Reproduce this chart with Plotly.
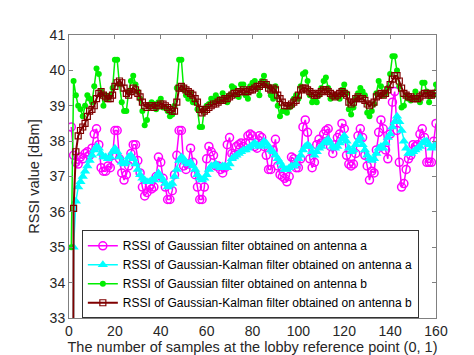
import plotly.graph_objects as go

samples = list(range(1, 161))

gauss_a = [38.4, 37.6, 37.4, 37.35, 37.55, 37.5, 37.65, 37.7, 37.6, 37.8,
           38.2, 38.35, 37.9, 37.25, 37.15, 37.15, 37.3, 37.25, 37.6, 38.3,
           38.3, 37.5, 37.1, 36.9, 37.05, 37.3, 37.65, 37.9, 37.9, 37.45,
           37.1, 36.7, 36.45, 36.55, 36.7, 36.65, 36.7, 37.0, 37.55, 37.4,
           36.95, 36.7, 36.35, 36.35, 36.6, 37.05, 37.6, 38.3, 38.3, 37.3,
           37.2, 37.35, 37.8, 37.4, 37.05, 36.7, 36.35, 36.35, 36.7, 37.5,
           37.85, 37.7, 37.6, 37.3, 37.3, 37.2, 37.1, 37.25, 37.9, 38.1,
           37.65, 37.6, 37.85, 37.9, 37.95, 37.85, 37.95, 38.15, 38.2, 38.15,
           37.85, 37.8, 38.15, 38.1, 37.85, 37.6, 37.2, 37.2, 37.75, 38.05,
           37.3, 37.05, 37.0, 36.95, 36.85, 37.0, 37.55, 37.5, 37.25, 37.25,
           37.5, 38.4, 38.6, 38.25, 37.5, 37.25, 37.4, 37.9, 38.05, 37.95,
           38.2, 38.3, 38.35, 37.85, 37.65, 37.9, 38.1, 38.2, 38.5, 38.35,
           37.6, 37.35, 37.3, 37.35, 37.65, 38.15, 38.35, 38.1, 37.6, 37.3,
           36.9, 37.15, 37.1, 37.75, 38.25, 38.6, 38.35, 37.75, 37.5, 38.2,
           39.1, 39.4, 38.3, 37.4, 36.7, 36.8, 37.2, 37.5, 37.6, 37.9,
           37.85, 37.9, 38.2, 38.35, 38.1, 37.4, 37.4, 37.4, 38.0, 38.5]

kalman_a = [0.0, 35.0, 36.3, 36.7, 36.85, 37.0, 37.15, 37.3, 37.45, 37.6,
            37.75, 37.85, 37.8, 37.65, 37.55, 37.55, 37.5, 37.55, 37.7, 37.8,
            37.7, 37.55, 37.4, 37.35, 37.4, 37.55, 37.6, 37.5, 37.35, 37.2,
            37.05, 36.95, 36.9, 36.85, 36.85, 36.9, 36.9, 37.0, 37.1, 37.0,
            36.9, 36.8, 36.7, 36.75, 36.8, 37.0, 37.2, 37.45, 37.55, 37.5,
            37.4, 37.35, 37.4, 37.3, 37.2, 37.05, 36.95, 36.9, 36.95, 37.05,
            37.2, 37.3, 37.3, 37.35, 37.3, 37.25, 37.3, 37.3, 37.25, 37.35,
            37.5, 37.55, 37.6, 37.65, 37.7, 37.75, 37.75, 37.8, 37.85, 37.9,
            37.95, 37.9, 37.85, 37.9, 38.0, 37.95, 37.85, 37.75, 37.7, 37.6,
            37.5, 37.4, 37.3, 37.2, 37.2, 37.25, 37.3, 37.3, 37.35, 37.5,
            37.6, 37.75, 37.85, 37.9, 37.85, 37.7, 37.6, 37.7, 37.8, 37.85,
            37.95, 38.0, 38.05, 37.95, 37.85, 37.8, 37.85, 37.95, 38.05, 38.15,
            38.0, 37.8, 37.7, 37.75, 37.9, 38.0, 38.1, 37.9, 37.75, 37.6,
            37.5, 37.45, 37.5, 37.65, 37.8, 37.85, 37.8, 37.95, 38.1, 38.2,
            38.4, 38.55, 38.7, 38.55, 38.3, 38.0, 37.8, 37.65, 37.65, 37.7,
            37.75, 37.8, 37.85, 37.95, 38.0, 38.0, 37.9, 37.8, 37.85, 37.9]

gauss_b = [35.0, 39.7, 39.3, 39.0, 38.9, 38.7, 39.0, 39.3, 39.2, 39.1,
           39.55, 40.05, 39.9, 39.4, 39.0, 39.3, 39.2, 39.3, 39.5, 40.3,
           40.3, 39.6, 39.1, 38.85, 38.85, 39.4, 39.7, 39.85, 39.6, 39.4,
           39.2, 38.85, 38.45, 38.6, 39.0, 39.1, 39.05, 38.9, 39.1, 39.2,
           38.95, 38.95, 38.85, 38.7, 38.75, 39.0, 39.5, 40.3, 40.3, 39.45,
           39.3, 39.2, 39.35, 39.1, 39.1, 38.9, 38.4, 38.4, 38.9, 39.0,
           39.05, 39.2, 39.1, 39.3, 39.2, 39.15, 39.35, 39.2, 39.1, 39.3,
           39.55, 39.5, 39.3, 39.25, 39.6, 39.6, 39.3, 39.2, 39.55, 39.65,
           39.7, 39.5, 39.3, 39.7, 39.85, 39.6, 39.55, 39.3, 39.2, 39.55,
           39.0, 38.7, 38.85, 38.85, 38.8, 38.95, 39.0, 39.2, 39.3, 39.2,
           39.55, 39.9, 39.95, 39.7, 39.3, 39.1, 39.15, 39.1, 39.3, 39.5,
           39.7, 39.8, 39.5, 39.2, 39.25, 39.3, 39.25, 39.2, 39.45, 39.6,
           39.35, 38.9, 38.75, 38.95, 39.2, 39.35, 39.5, 39.4, 39.3, 38.8,
           38.7, 38.85, 39.05, 39.35, 39.7, 39.55, 39.3, 39.35, 39.5, 39.9,
           40.4, 40.4, 40.0, 39.55, 38.95, 39.0, 39.3, 39.2, 39.15, 39.2,
           39.4, 39.2, 39.1, 39.65, 39.65, 39.4, 39.1, 39.35, 39.3, 39.6]

kalman_b = [0.0, 36.1, 37.7, 38.15, 38.3, 38.4, 38.5, 38.7, 38.85, 38.9,
            39.0, 39.2, 39.35, 39.4, 39.3, 39.25, 39.2, 39.2, 39.3, 39.55,
            39.65, 39.7, 39.65, 39.5, 39.35, 39.3, 39.4, 39.5, 39.45, 39.35,
            39.25, 39.1, 39.0, 38.95, 39.0, 39.0, 38.95, 39.0, 39.0, 39.05,
            39.05, 39.0, 38.95, 38.9, 38.85, 38.85, 39.1, 39.5, 39.55, 39.5,
            39.45, 39.4, 39.35, 39.3, 39.2, 39.1, 38.9, 38.8, 38.85, 38.9,
            38.95, 39.0, 39.05, 39.05, 39.1, 39.15, 39.15, 39.2, 39.2, 39.25,
            39.3, 39.35, 39.35, 39.4, 39.4, 39.45, 39.4, 39.4, 39.45, 39.45,
            39.5, 39.55, 39.55, 39.6, 39.65, 39.6, 39.5, 39.45, 39.5, 39.45,
            39.3, 39.2, 39.1, 39.0, 39.0, 39.0, 39.05, 39.1, 39.15, 39.3,
            39.45, 39.5, 39.5, 39.45, 39.4, 39.35, 39.3, 39.3, 39.35, 39.4,
            39.45, 39.45, 39.4, 39.35, 39.3, 39.25, 39.3, 39.35, 39.4, 39.35,
            39.3, 39.1, 39.05, 39.1, 39.2, 39.25, 39.2, 39.2, 39.15, 39.05,
            39.0, 39.05, 39.1, 39.25, 39.3, 39.35, 39.3, 39.35, 39.45, 39.6,
            39.75, 39.85, 39.85, 39.7, 39.5, 39.35, 39.3, 39.25, 39.25, 39.2,
            39.2, 39.2, 39.25, 39.3, 39.35, 39.35, 39.3, 39.3, 39.35, 39.35]

series_names = [
    "RSSI of Gaussian filter obtained on antenna a",
    "RSSI of Gaussian-Kalman filter obtained on antenna a",
    "RSSI of Gaussian filter obtained on antenna b",
    "RSSI of Gaussian-Kalman filter obtained on antenna b",
]
x_ticks = [0, 20, 40, 60, 80, 100, 120, 140, 160]
y_ticks = [33, 34, 35, 36, 37, 38, 39, 40, 41]

fig = go.Figure()
fig.add_trace(go.Scatter(
    x=samples, y=gauss_a, name=series_names[0], mode="lines+markers",
    line=dict(color="#FF00FF", width=1.5),
    marker=dict(symbol="circle-open", size=8, color="#FF00FF", line=dict(width=1.5))))
fig.add_trace(go.Scatter(
    x=samples, y=kalman_a, name=series_names[1], mode="lines+markers",
    line=dict(color="#00FFFF", width=1.5),
    marker=dict(symbol="triangle-up", size=9, color="#00FFFF")))
fig.add_trace(go.Scatter(
    x=samples, y=gauss_b, name=series_names[2], mode="lines+markers",
    line=dict(color="#00EE00", width=1.5),
    marker=dict(symbol="circle", size=6, color="#00EE00")))
fig.add_trace(go.Scatter(
    x=samples, y=kalman_b, name=series_names[3], mode="lines+markers",
    line=dict(color="#800000", width=2),
    marker=dict(symbol="square-open", size=6, color="#800000", line=dict(width=1.2))))

axis_common = dict(
    showgrid=False, zeroline=False, showline=True, linecolor="#808080", linewidth=1,
    mirror="ticks", ticks="inside", ticklen=4, tickcolor="#808080",
    tickfont=dict(family="Arial, Liberation Sans", size=14, color="#262626"),
)
fig.update_xaxes(range=[0, 160], tickvals=x_ticks, ticktext=[str(v) for v in x_ticks],
                 title=dict(text="The number of samples at the lobby reference point (0, 1)",
                            font=dict(family="Arial, Liberation Sans", size=14.5, color="#262626"),
                            standoff=2),
                 **axis_common)
fig.update_yaxes(range=[33, 41], tickvals=y_ticks, ticktext=[str(v) for v in y_ticks],
                 title=dict(text="RSSI value [dBm]",
                            font=dict(family="Arial, Liberation Sans", size=14.5, color="#262626"),
                            standoff=6),
                 **axis_common)

fig.update_layout(
    width=474, height=355,
    margin=dict(l=61, r=46, t=27, b=42),
    paper_bgcolor="white", plot_bgcolor="white",
    showlegend=True,
    legend=dict(x=0.035, y=0.31, xanchor="left", yanchor="top",
                bgcolor="white", bordercolor="#333333", borderwidth=1,
                font=dict(family="Arial, Liberation Sans", size=12, color="#000000"),
                itemwidth=30, tracegroupgap=0),
)

fig.write_html("out.html")
